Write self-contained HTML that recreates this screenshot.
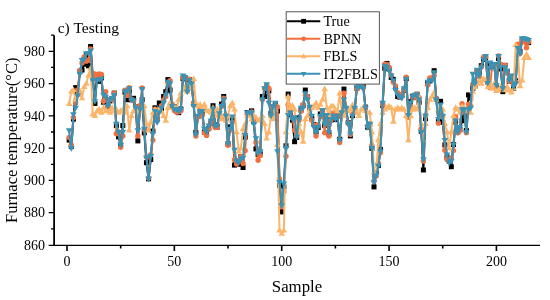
<!DOCTYPE html>
<html><head><meta charset="utf-8"><title>Testing</title>
<style>html,body{margin:0;padding:0;background:#fff;}body{width:550px;height:300px;overflow:hidden;}svg{display:block;}</style>
</head><body>
<svg width="550" height="300" viewBox="0 0 550 300">
<rect width="550" height="300" fill="#fff"/>
<g fill="none" stroke-linejoin="round" stroke-linecap="round">
<polyline points="69.15,140.09 71.29,146.55 73.44,119.11 75.59,87.63 77.73,91.67 79.88,71.33 82.03,70.04 84.18,64.23 86.32,54.55 88.47,65.85 90.62,46.48 92.76,75.53 94.91,103.45 97.06,74.72 99.20,81.34 101.35,77.95 103.50,102.16 105.65,99.09 107.79,106.20 109.94,100.87 112.09,98.45 114.23,93.12 116.38,125.56 118.53,136.86 120.67,144.93 122.82,125.56 124.97,92.15 127.12,99.74 129.26,91.19 131.41,99.74 133.56,98.29 135.70,106.68 137.85,140.90 140.00,107.49 142.14,99.74 144.29,132.83 146.44,162.69 148.59,178.83 150.73,159.46 152.88,131.05 155.03,107.81 157.17,119.11 159.32,102.97 161.47,108.46 163.62,96.51 165.76,91.67 167.91,79.56 170.06,90.06 172.20,107.00 174.35,106.84 176.50,111.36 178.64,112.65 180.79,108.94 182.94,78.44 185.08,77.95 187.23,89.09 189.38,79.56 191.53,82.63 193.67,103.94 195.82,132.34 197.97,116.53 200.11,111.04 202.26,113.62 204.41,132.02 206.55,132.99 208.70,128.47 210.85,122.98 213.00,105.71 215.14,124.92 217.29,127.02 219.44,114.10 221.58,104.10 223.73,96.51 225.88,118.30 228.02,144.29 230.17,126.86 232.32,119.43 234.47,165.11 236.61,160.75 238.76,164.30 240.91,156.55 243.05,167.53 245.20,137.18 247.35,112.49 249.49,113.62 251.64,110.88 253.79,121.85 255.94,148.97 258.08,154.62 260.23,153.81 262.38,96.51 264.52,96.51 266.67,86.83 268.82,90.86 270.96,113.30 273.11,107.81 275.26,104.74 277.41,111.04 279.55,185.28 281.70,211.91 283.85,186.90 285.99,145.74 288.14,94.09 290.29,114.59 292.43,120.08 294.58,141.70 296.73,137.51 298.88,117.82 301.02,109.91 303.17,105.39 305.32,90.06 307.46,97.00 309.61,107.81 311.76,117.98 313.90,124.43 316.05,131.86 318.20,127.50 320.35,113.94 322.49,111.52 324.64,125.40 326.79,116.53 328.93,134.12 331.08,119.91 333.23,115.40 335.38,119.59 337.52,115.88 339.67,139.28 341.82,112.97 343.96,89.09 346.11,109.75 348.26,122.66 350.40,135.89 352.55,115.56 354.70,110.07 356.84,88.28 358.99,85.21 361.14,86.02 363.29,86.02 365.43,107.16 367.58,127.18 369.73,124.27 371.87,148.32 374.02,186.90 376.17,173.02 378.31,165.59 380.46,149.45 382.61,105.23 384.76,68.27 386.90,63.42 389.05,69.07 391.20,77.47 393.34,79.40 395.49,87.80 397.64,96.51 399.78,97.16 401.93,95.22 404.08,90.38 406.23,78.60 408.37,116.85 410.52,101.68 412.67,96.19 414.81,97.64 416.96,94.25 419.11,102.32 421.25,131.21 423.40,169.95 425.55,118.62 427.70,83.28 429.84,80.86 431.99,78.60 434.14,70.69 436.28,99.26 438.43,121.53 440.58,101.35 442.72,122.34 444.87,144.93 447.02,157.04 449.17,161.07 451.31,166.72 453.46,144.61 455.61,122.01 457.75,131.86 459.90,129.44 462.05,120.72 464.19,110.55 466.34,130.57 468.49,94.90 470.64,98.13 472.78,88.44 474.93,86.02 477.08,71.66 479.22,72.95 481.37,65.68 483.52,59.39 485.66,57.78 487.81,81.99 489.96,63.59 492.11,66.33 494.25,64.72 496.40,87.80 498.55,58.58 500.69,68.91 502.84,91.67 504.99,65.36 507.13,71.98 509.28,81.50 511.43,77.47 513.58,88.28 515.72,80.86 517.87,46.48 520.02,51.32 522.16,40.02 524.31,41.64 526.46,40.83 528.61,42.60" stroke="#000000" stroke-width="2.0"/>
<g fill="#000000"><rect x="66.65" y="137.59" width="5.0" height="5.0"/><rect x="68.79" y="144.05" width="5.0" height="5.0"/><rect x="70.94" y="116.61" width="5.0" height="5.0"/><rect x="73.09" y="85.13" width="5.0" height="5.0"/><rect x="75.23" y="89.17" width="5.0" height="5.0"/><rect x="77.38" y="68.83" width="5.0" height="5.0"/><rect x="79.53" y="67.54" width="5.0" height="5.0"/><rect x="81.68" y="61.73" width="5.0" height="5.0"/><rect x="83.82" y="52.05" width="5.0" height="5.0"/><rect x="85.97" y="63.35" width="5.0" height="5.0"/><rect x="88.12" y="43.98" width="5.0" height="5.0"/><rect x="90.26" y="73.03" width="5.0" height="5.0"/><rect x="92.41" y="100.95" width="5.0" height="5.0"/><rect x="94.56" y="72.22" width="5.0" height="5.0"/><rect x="96.70" y="78.84" width="5.0" height="5.0"/><rect x="98.85" y="75.45" width="5.0" height="5.0"/><rect x="101.00" y="99.66" width="5.0" height="5.0"/><rect x="103.15" y="96.59" width="5.0" height="5.0"/><rect x="105.29" y="103.70" width="5.0" height="5.0"/><rect x="107.44" y="98.37" width="5.0" height="5.0"/><rect x="109.59" y="95.95" width="5.0" height="5.0"/><rect x="111.73" y="90.62" width="5.0" height="5.0"/><rect x="113.88" y="123.06" width="5.0" height="5.0"/><rect x="116.03" y="134.36" width="5.0" height="5.0"/><rect x="118.17" y="142.43" width="5.0" height="5.0"/><rect x="120.32" y="123.06" width="5.0" height="5.0"/><rect x="122.47" y="89.65" width="5.0" height="5.0"/><rect x="124.62" y="97.24" width="5.0" height="5.0"/><rect x="126.76" y="88.69" width="5.0" height="5.0"/><rect x="128.91" y="97.24" width="5.0" height="5.0"/><rect x="131.06" y="95.79" width="5.0" height="5.0"/><rect x="133.20" y="104.18" width="5.0" height="5.0"/><rect x="135.35" y="138.40" width="5.0" height="5.0"/><rect x="137.50" y="104.99" width="5.0" height="5.0"/><rect x="139.64" y="97.24" width="5.0" height="5.0"/><rect x="141.79" y="130.33" width="5.0" height="5.0"/><rect x="143.94" y="160.19" width="5.0" height="5.0"/><rect x="146.09" y="176.33" width="5.0" height="5.0"/><rect x="148.23" y="156.96" width="5.0" height="5.0"/><rect x="150.38" y="128.55" width="5.0" height="5.0"/><rect x="152.53" y="105.31" width="5.0" height="5.0"/><rect x="154.67" y="116.61" width="5.0" height="5.0"/><rect x="156.82" y="100.47" width="5.0" height="5.0"/><rect x="158.97" y="105.96" width="5.0" height="5.0"/><rect x="161.12" y="94.01" width="5.0" height="5.0"/><rect x="163.26" y="89.17" width="5.0" height="5.0"/><rect x="165.41" y="77.06" width="5.0" height="5.0"/><rect x="167.56" y="87.56" width="5.0" height="5.0"/><rect x="169.70" y="104.50" width="5.0" height="5.0"/><rect x="171.85" y="104.34" width="5.0" height="5.0"/><rect x="174.00" y="108.86" width="5.0" height="5.0"/><rect x="176.14" y="110.15" width="5.0" height="5.0"/><rect x="178.29" y="106.44" width="5.0" height="5.0"/><rect x="180.44" y="75.94" width="5.0" height="5.0"/><rect x="182.58" y="75.45" width="5.0" height="5.0"/><rect x="184.73" y="86.59" width="5.0" height="5.0"/><rect x="186.88" y="77.06" width="5.0" height="5.0"/><rect x="189.03" y="80.13" width="5.0" height="5.0"/><rect x="191.17" y="101.44" width="5.0" height="5.0"/><rect x="193.32" y="129.84" width="5.0" height="5.0"/><rect x="195.47" y="114.03" width="5.0" height="5.0"/><rect x="197.61" y="108.54" width="5.0" height="5.0"/><rect x="199.76" y="111.12" width="5.0" height="5.0"/><rect x="201.91" y="129.52" width="5.0" height="5.0"/><rect x="204.05" y="130.49" width="5.0" height="5.0"/><rect x="206.20" y="125.97" width="5.0" height="5.0"/><rect x="208.35" y="120.48" width="5.0" height="5.0"/><rect x="210.50" y="103.21" width="5.0" height="5.0"/><rect x="212.64" y="122.42" width="5.0" height="5.0"/><rect x="214.79" y="124.52" width="5.0" height="5.0"/><rect x="216.94" y="111.60" width="5.0" height="5.0"/><rect x="219.08" y="101.60" width="5.0" height="5.0"/><rect x="221.23" y="94.01" width="5.0" height="5.0"/><rect x="223.38" y="115.80" width="5.0" height="5.0"/><rect x="225.52" y="141.79" width="5.0" height="5.0"/><rect x="227.67" y="124.36" width="5.0" height="5.0"/><rect x="229.82" y="116.93" width="5.0" height="5.0"/><rect x="231.97" y="162.61" width="5.0" height="5.0"/><rect x="234.11" y="158.25" width="5.0" height="5.0"/><rect x="236.26" y="161.80" width="5.0" height="5.0"/><rect x="238.41" y="154.05" width="5.0" height="5.0"/><rect x="240.55" y="165.03" width="5.0" height="5.0"/><rect x="242.70" y="134.68" width="5.0" height="5.0"/><rect x="244.85" y="109.99" width="5.0" height="5.0"/><rect x="246.99" y="111.12" width="5.0" height="5.0"/><rect x="249.14" y="108.38" width="5.0" height="5.0"/><rect x="251.29" y="119.35" width="5.0" height="5.0"/><rect x="253.44" y="146.47" width="5.0" height="5.0"/><rect x="255.58" y="152.12" width="5.0" height="5.0"/><rect x="257.73" y="151.31" width="5.0" height="5.0"/><rect x="259.88" y="94.01" width="5.0" height="5.0"/><rect x="262.02" y="94.01" width="5.0" height="5.0"/><rect x="264.17" y="84.33" width="5.0" height="5.0"/><rect x="266.32" y="88.36" width="5.0" height="5.0"/><rect x="268.46" y="110.80" width="5.0" height="5.0"/><rect x="270.61" y="105.31" width="5.0" height="5.0"/><rect x="272.76" y="102.24" width="5.0" height="5.0"/><rect x="274.91" y="108.54" width="5.0" height="5.0"/><rect x="277.05" y="182.78" width="5.0" height="5.0"/><rect x="279.20" y="209.41" width="5.0" height="5.0"/><rect x="281.35" y="184.40" width="5.0" height="5.0"/><rect x="283.49" y="143.24" width="5.0" height="5.0"/><rect x="285.64" y="91.59" width="5.0" height="5.0"/><rect x="287.79" y="112.09" width="5.0" height="5.0"/><rect x="289.93" y="117.58" width="5.0" height="5.0"/><rect x="292.08" y="139.20" width="5.0" height="5.0"/><rect x="294.23" y="135.01" width="5.0" height="5.0"/><rect x="296.38" y="115.32" width="5.0" height="5.0"/><rect x="298.52" y="107.41" width="5.0" height="5.0"/><rect x="300.67" y="102.89" width="5.0" height="5.0"/><rect x="302.82" y="87.56" width="5.0" height="5.0"/><rect x="304.96" y="94.50" width="5.0" height="5.0"/><rect x="307.11" y="105.31" width="5.0" height="5.0"/><rect x="309.26" y="115.48" width="5.0" height="5.0"/><rect x="311.40" y="121.93" width="5.0" height="5.0"/><rect x="313.55" y="129.36" width="5.0" height="5.0"/><rect x="315.70" y="125.00" width="5.0" height="5.0"/><rect x="317.85" y="111.44" width="5.0" height="5.0"/><rect x="319.99" y="109.02" width="5.0" height="5.0"/><rect x="322.14" y="122.90" width="5.0" height="5.0"/><rect x="324.29" y="114.03" width="5.0" height="5.0"/><rect x="326.43" y="131.62" width="5.0" height="5.0"/><rect x="328.58" y="117.41" width="5.0" height="5.0"/><rect x="330.73" y="112.90" width="5.0" height="5.0"/><rect x="332.88" y="117.09" width="5.0" height="5.0"/><rect x="335.02" y="113.38" width="5.0" height="5.0"/><rect x="337.17" y="136.78" width="5.0" height="5.0"/><rect x="339.32" y="110.47" width="5.0" height="5.0"/><rect x="341.46" y="86.59" width="5.0" height="5.0"/><rect x="343.61" y="107.25" width="5.0" height="5.0"/><rect x="345.76" y="120.16" width="5.0" height="5.0"/><rect x="347.90" y="133.39" width="5.0" height="5.0"/><rect x="350.05" y="113.06" width="5.0" height="5.0"/><rect x="352.20" y="107.57" width="5.0" height="5.0"/><rect x="354.34" y="85.78" width="5.0" height="5.0"/><rect x="356.49" y="82.71" width="5.0" height="5.0"/><rect x="358.64" y="83.52" width="5.0" height="5.0"/><rect x="360.79" y="83.52" width="5.0" height="5.0"/><rect x="362.93" y="104.66" width="5.0" height="5.0"/><rect x="365.08" y="124.68" width="5.0" height="5.0"/><rect x="367.23" y="121.77" width="5.0" height="5.0"/><rect x="369.37" y="145.82" width="5.0" height="5.0"/><rect x="371.52" y="184.40" width="5.0" height="5.0"/><rect x="373.67" y="170.52" width="5.0" height="5.0"/><rect x="375.81" y="163.09" width="5.0" height="5.0"/><rect x="377.96" y="146.95" width="5.0" height="5.0"/><rect x="380.11" y="102.73" width="5.0" height="5.0"/><rect x="382.26" y="65.77" width="5.0" height="5.0"/><rect x="384.40" y="60.92" width="5.0" height="5.0"/><rect x="386.55" y="66.57" width="5.0" height="5.0"/><rect x="388.70" y="74.97" width="5.0" height="5.0"/><rect x="390.84" y="76.90" width="5.0" height="5.0"/><rect x="392.99" y="85.30" width="5.0" height="5.0"/><rect x="395.14" y="94.01" width="5.0" height="5.0"/><rect x="397.28" y="94.66" width="5.0" height="5.0"/><rect x="399.43" y="92.72" width="5.0" height="5.0"/><rect x="401.58" y="87.88" width="5.0" height="5.0"/><rect x="403.73" y="76.10" width="5.0" height="5.0"/><rect x="405.87" y="114.35" width="5.0" height="5.0"/><rect x="408.02" y="99.18" width="5.0" height="5.0"/><rect x="410.17" y="93.69" width="5.0" height="5.0"/><rect x="412.31" y="95.14" width="5.0" height="5.0"/><rect x="414.46" y="91.75" width="5.0" height="5.0"/><rect x="416.61" y="99.82" width="5.0" height="5.0"/><rect x="418.75" y="128.71" width="5.0" height="5.0"/><rect x="420.90" y="167.45" width="5.0" height="5.0"/><rect x="423.05" y="116.12" width="5.0" height="5.0"/><rect x="425.20" y="80.78" width="5.0" height="5.0"/><rect x="427.34" y="78.36" width="5.0" height="5.0"/><rect x="429.49" y="76.10" width="5.0" height="5.0"/><rect x="431.64" y="68.19" width="5.0" height="5.0"/><rect x="433.78" y="96.76" width="5.0" height="5.0"/><rect x="435.93" y="119.03" width="5.0" height="5.0"/><rect x="438.08" y="98.85" width="5.0" height="5.0"/><rect x="440.22" y="119.84" width="5.0" height="5.0"/><rect x="442.37" y="142.43" width="5.0" height="5.0"/><rect x="444.52" y="154.54" width="5.0" height="5.0"/><rect x="446.67" y="158.57" width="5.0" height="5.0"/><rect x="448.81" y="164.22" width="5.0" height="5.0"/><rect x="450.96" y="142.11" width="5.0" height="5.0"/><rect x="453.11" y="119.51" width="5.0" height="5.0"/><rect x="455.25" y="129.36" width="5.0" height="5.0"/><rect x="457.40" y="126.94" width="5.0" height="5.0"/><rect x="459.55" y="118.22" width="5.0" height="5.0"/><rect x="461.69" y="108.05" width="5.0" height="5.0"/><rect x="463.84" y="128.07" width="5.0" height="5.0"/><rect x="465.99" y="92.40" width="5.0" height="5.0"/><rect x="468.14" y="95.63" width="5.0" height="5.0"/><rect x="470.28" y="85.94" width="5.0" height="5.0"/><rect x="472.43" y="83.52" width="5.0" height="5.0"/><rect x="474.58" y="69.16" width="5.0" height="5.0"/><rect x="476.72" y="70.45" width="5.0" height="5.0"/><rect x="478.87" y="63.18" width="5.0" height="5.0"/><rect x="481.02" y="56.89" width="5.0" height="5.0"/><rect x="483.16" y="55.28" width="5.0" height="5.0"/><rect x="485.31" y="79.49" width="5.0" height="5.0"/><rect x="487.46" y="61.09" width="5.0" height="5.0"/><rect x="489.61" y="63.83" width="5.0" height="5.0"/><rect x="491.75" y="62.22" width="5.0" height="5.0"/><rect x="493.90" y="85.30" width="5.0" height="5.0"/><rect x="496.05" y="56.08" width="5.0" height="5.0"/><rect x="498.19" y="66.41" width="5.0" height="5.0"/><rect x="500.34" y="89.17" width="5.0" height="5.0"/><rect x="502.49" y="62.86" width="5.0" height="5.0"/><rect x="504.63" y="69.48" width="5.0" height="5.0"/><rect x="506.78" y="79.00" width="5.0" height="5.0"/><rect x="508.93" y="74.97" width="5.0" height="5.0"/><rect x="511.08" y="85.78" width="5.0" height="5.0"/><rect x="513.22" y="78.36" width="5.0" height="5.0"/><rect x="515.37" y="43.98" width="5.0" height="5.0"/><rect x="517.52" y="48.82" width="5.0" height="5.0"/><rect x="519.66" y="37.52" width="5.0" height="5.0"/><rect x="521.81" y="39.14" width="5.0" height="5.0"/><rect x="523.96" y="38.33" width="5.0" height="5.0"/><rect x="526.11" y="40.10" width="5.0" height="5.0"/></g>
<polyline points="69.15,137.51 71.29,144.93 73.44,117.49 75.59,102.97 77.73,90.06 79.88,70.69 82.03,62.94 84.18,56.97 86.32,61.17 88.47,60.20 90.62,49.06 92.76,79.24 94.91,73.92 97.06,75.53 99.20,73.92 101.35,74.56 103.50,101.35 105.65,91.67 107.79,106.68 109.94,99.74 112.09,99.58 114.23,93.28 116.38,133.63 118.53,132.02 120.67,147.35 122.82,136.06 124.97,90.22 127.12,95.38 129.26,87.63 131.41,99.26 133.56,100.71 135.70,106.68 137.85,135.89 140.00,105.55 142.14,87.96 144.29,129.44 146.44,157.04 148.59,178.02 150.73,154.62 152.88,140.09 155.03,109.42 157.17,118.95 159.32,109.42 161.47,105.71 163.62,100.06 165.76,96.51 167.91,82.79 170.06,80.69 172.20,104.10 174.35,110.39 176.50,112.17 178.64,111.84 180.79,110.72 182.94,77.47 185.08,77.14 187.23,89.09 189.38,79.24 191.53,86.02 193.67,103.29 195.82,136.06 197.97,116.85 200.11,110.23 202.26,115.07 204.41,132.67 206.55,135.41 208.70,129.28 210.85,122.82 213.00,109.42 215.14,127.50 217.29,127.34 219.44,116.20 221.58,106.20 223.73,98.29 225.88,119.59 228.02,145.25 230.17,130.08 232.32,122.34 234.47,159.78 236.61,163.98 238.76,160.43 240.91,156.39 243.05,163.49 245.20,150.58 247.35,114.27 249.49,112.65 251.64,111.84 253.79,120.88 255.94,142.19 258.08,160.26 260.23,155.58 262.38,99.58 264.52,88.44 266.67,86.02 268.82,88.44 270.96,115.40 273.11,108.78 275.26,105.71 277.41,106.84 279.55,178.83 281.70,206.75 283.85,191.74 285.99,156.23 288.14,104.74 290.29,111.68 292.43,117.66 294.58,130.24 296.73,134.28 298.88,120.56 301.02,111.20 303.17,104.58 305.32,94.90 307.46,97.32 309.61,107.16 311.76,120.08 313.90,124.92 316.05,136.06 318.20,124.92 320.35,116.85 322.49,112.17 324.64,132.83 326.79,116.36 328.93,136.06 331.08,119.75 333.23,112.97 335.38,116.69 337.52,115.72 339.67,142.51 341.82,114.91 343.96,93.28 346.11,108.94 348.26,122.98 350.40,134.60 352.55,113.94 354.70,108.62 356.84,88.93 358.99,86.02 361.14,84.41 363.29,87.63 365.43,107.49 367.58,125.89 369.73,123.95 371.87,145.42 374.02,181.25 376.17,175.92 378.31,162.85 380.46,152.68 382.61,104.42 384.76,64.23 386.90,64.39 389.05,67.30 391.20,75.21 393.34,82.15 395.49,85.86 397.64,92.80 399.78,96.83 401.93,94.58 404.08,90.06 406.23,77.14 408.37,117.17 410.52,105.39 412.67,96.67 414.81,97.32 416.96,94.41 419.11,97.80 421.25,128.63 423.40,161.07 425.55,115.40 427.70,85.05 429.84,77.95 431.99,78.76 434.14,75.53 436.28,98.29 438.43,123.14 440.58,109.42 442.72,116.20 444.87,150.26 447.02,159.46 449.17,159.46 451.31,157.84 453.46,150.58 455.61,116.69 457.75,132.83 459.90,130.57 462.05,103.77 464.19,111.20 466.34,132.67 468.49,104.26 470.64,106.03 472.78,84.25 474.93,84.41 477.08,71.01 479.22,76.82 481.37,66.98 483.52,57.29 485.66,56.97 487.81,79.40 489.96,87.63 492.11,66.01 494.25,65.52 496.40,88.93 498.55,55.84 500.69,64.23 502.84,87.80 504.99,65.36 507.13,72.95 509.28,81.18 511.43,76.82 513.58,84.57 515.72,81.99 517.87,44.22 520.02,53.42 522.16,40.02 524.31,41.64 526.46,47.77 528.61,41.64" stroke="#F46F3E" stroke-width="2.0"/>
<g fill="#F46F3E"><circle cx="69.15" cy="137.51" r="2.7"/><circle cx="71.29" cy="144.93" r="2.7"/><circle cx="73.44" cy="117.49" r="2.7"/><circle cx="75.59" cy="102.97" r="2.7"/><circle cx="77.73" cy="90.06" r="2.7"/><circle cx="79.88" cy="70.69" r="2.7"/><circle cx="82.03" cy="62.94" r="2.7"/><circle cx="84.18" cy="56.97" r="2.7"/><circle cx="86.32" cy="61.17" r="2.7"/><circle cx="88.47" cy="60.20" r="2.7"/><circle cx="90.62" cy="49.06" r="2.7"/><circle cx="92.76" cy="79.24" r="2.7"/><circle cx="94.91" cy="73.92" r="2.7"/><circle cx="97.06" cy="75.53" r="2.7"/><circle cx="99.20" cy="73.92" r="2.7"/><circle cx="101.35" cy="74.56" r="2.7"/><circle cx="103.50" cy="101.35" r="2.7"/><circle cx="105.65" cy="91.67" r="2.7"/><circle cx="107.79" cy="106.68" r="2.7"/><circle cx="109.94" cy="99.74" r="2.7"/><circle cx="112.09" cy="99.58" r="2.7"/><circle cx="114.23" cy="93.28" r="2.7"/><circle cx="116.38" cy="133.63" r="2.7"/><circle cx="118.53" cy="132.02" r="2.7"/><circle cx="120.67" cy="147.35" r="2.7"/><circle cx="122.82" cy="136.06" r="2.7"/><circle cx="124.97" cy="90.22" r="2.7"/><circle cx="127.12" cy="95.38" r="2.7"/><circle cx="129.26" cy="87.63" r="2.7"/><circle cx="131.41" cy="99.26" r="2.7"/><circle cx="133.56" cy="100.71" r="2.7"/><circle cx="135.70" cy="106.68" r="2.7"/><circle cx="137.85" cy="135.89" r="2.7"/><circle cx="140.00" cy="105.55" r="2.7"/><circle cx="142.14" cy="87.96" r="2.7"/><circle cx="144.29" cy="129.44" r="2.7"/><circle cx="146.44" cy="157.04" r="2.7"/><circle cx="148.59" cy="178.02" r="2.7"/><circle cx="150.73" cy="154.62" r="2.7"/><circle cx="152.88" cy="140.09" r="2.7"/><circle cx="155.03" cy="109.42" r="2.7"/><circle cx="157.17" cy="118.95" r="2.7"/><circle cx="159.32" cy="109.42" r="2.7"/><circle cx="161.47" cy="105.71" r="2.7"/><circle cx="163.62" cy="100.06" r="2.7"/><circle cx="165.76" cy="96.51" r="2.7"/><circle cx="167.91" cy="82.79" r="2.7"/><circle cx="170.06" cy="80.69" r="2.7"/><circle cx="172.20" cy="104.10" r="2.7"/><circle cx="174.35" cy="110.39" r="2.7"/><circle cx="176.50" cy="112.17" r="2.7"/><circle cx="178.64" cy="111.84" r="2.7"/><circle cx="180.79" cy="110.72" r="2.7"/><circle cx="182.94" cy="77.47" r="2.7"/><circle cx="185.08" cy="77.14" r="2.7"/><circle cx="187.23" cy="89.09" r="2.7"/><circle cx="189.38" cy="79.24" r="2.7"/><circle cx="191.53" cy="86.02" r="2.7"/><circle cx="193.67" cy="103.29" r="2.7"/><circle cx="195.82" cy="136.06" r="2.7"/><circle cx="197.97" cy="116.85" r="2.7"/><circle cx="200.11" cy="110.23" r="2.7"/><circle cx="202.26" cy="115.07" r="2.7"/><circle cx="204.41" cy="132.67" r="2.7"/><circle cx="206.55" cy="135.41" r="2.7"/><circle cx="208.70" cy="129.28" r="2.7"/><circle cx="210.85" cy="122.82" r="2.7"/><circle cx="213.00" cy="109.42" r="2.7"/><circle cx="215.14" cy="127.50" r="2.7"/><circle cx="217.29" cy="127.34" r="2.7"/><circle cx="219.44" cy="116.20" r="2.7"/><circle cx="221.58" cy="106.20" r="2.7"/><circle cx="223.73" cy="98.29" r="2.7"/><circle cx="225.88" cy="119.59" r="2.7"/><circle cx="228.02" cy="145.25" r="2.7"/><circle cx="230.17" cy="130.08" r="2.7"/><circle cx="232.32" cy="122.34" r="2.7"/><circle cx="234.47" cy="159.78" r="2.7"/><circle cx="236.61" cy="163.98" r="2.7"/><circle cx="238.76" cy="160.43" r="2.7"/><circle cx="240.91" cy="156.39" r="2.7"/><circle cx="243.05" cy="163.49" r="2.7"/><circle cx="245.20" cy="150.58" r="2.7"/><circle cx="247.35" cy="114.27" r="2.7"/><circle cx="249.49" cy="112.65" r="2.7"/><circle cx="251.64" cy="111.84" r="2.7"/><circle cx="253.79" cy="120.88" r="2.7"/><circle cx="255.94" cy="142.19" r="2.7"/><circle cx="258.08" cy="160.26" r="2.7"/><circle cx="260.23" cy="155.58" r="2.7"/><circle cx="262.38" cy="99.58" r="2.7"/><circle cx="264.52" cy="88.44" r="2.7"/><circle cx="266.67" cy="86.02" r="2.7"/><circle cx="268.82" cy="88.44" r="2.7"/><circle cx="270.96" cy="115.40" r="2.7"/><circle cx="273.11" cy="108.78" r="2.7"/><circle cx="275.26" cy="105.71" r="2.7"/><circle cx="277.41" cy="106.84" r="2.7"/><circle cx="279.55" cy="178.83" r="2.7"/><circle cx="281.70" cy="206.75" r="2.7"/><circle cx="283.85" cy="191.74" r="2.7"/><circle cx="285.99" cy="156.23" r="2.7"/><circle cx="288.14" cy="104.74" r="2.7"/><circle cx="290.29" cy="111.68" r="2.7"/><circle cx="292.43" cy="117.66" r="2.7"/><circle cx="294.58" cy="130.24" r="2.7"/><circle cx="296.73" cy="134.28" r="2.7"/><circle cx="298.88" cy="120.56" r="2.7"/><circle cx="301.02" cy="111.20" r="2.7"/><circle cx="303.17" cy="104.58" r="2.7"/><circle cx="305.32" cy="94.90" r="2.7"/><circle cx="307.46" cy="97.32" r="2.7"/><circle cx="309.61" cy="107.16" r="2.7"/><circle cx="311.76" cy="120.08" r="2.7"/><circle cx="313.90" cy="124.92" r="2.7"/><circle cx="316.05" cy="136.06" r="2.7"/><circle cx="318.20" cy="124.92" r="2.7"/><circle cx="320.35" cy="116.85" r="2.7"/><circle cx="322.49" cy="112.17" r="2.7"/><circle cx="324.64" cy="132.83" r="2.7"/><circle cx="326.79" cy="116.36" r="2.7"/><circle cx="328.93" cy="136.06" r="2.7"/><circle cx="331.08" cy="119.75" r="2.7"/><circle cx="333.23" cy="112.97" r="2.7"/><circle cx="335.38" cy="116.69" r="2.7"/><circle cx="337.52" cy="115.72" r="2.7"/><circle cx="339.67" cy="142.51" r="2.7"/><circle cx="341.82" cy="114.91" r="2.7"/><circle cx="343.96" cy="93.28" r="2.7"/><circle cx="346.11" cy="108.94" r="2.7"/><circle cx="348.26" cy="122.98" r="2.7"/><circle cx="350.40" cy="134.60" r="2.7"/><circle cx="352.55" cy="113.94" r="2.7"/><circle cx="354.70" cy="108.62" r="2.7"/><circle cx="356.84" cy="88.93" r="2.7"/><circle cx="358.99" cy="86.02" r="2.7"/><circle cx="361.14" cy="84.41" r="2.7"/><circle cx="363.29" cy="87.63" r="2.7"/><circle cx="365.43" cy="107.49" r="2.7"/><circle cx="367.58" cy="125.89" r="2.7"/><circle cx="369.73" cy="123.95" r="2.7"/><circle cx="371.87" cy="145.42" r="2.7"/><circle cx="374.02" cy="181.25" r="2.7"/><circle cx="376.17" cy="175.92" r="2.7"/><circle cx="378.31" cy="162.85" r="2.7"/><circle cx="380.46" cy="152.68" r="2.7"/><circle cx="382.61" cy="104.42" r="2.7"/><circle cx="384.76" cy="64.23" r="2.7"/><circle cx="386.90" cy="64.39" r="2.7"/><circle cx="389.05" cy="67.30" r="2.7"/><circle cx="391.20" cy="75.21" r="2.7"/><circle cx="393.34" cy="82.15" r="2.7"/><circle cx="395.49" cy="85.86" r="2.7"/><circle cx="397.64" cy="92.80" r="2.7"/><circle cx="399.78" cy="96.83" r="2.7"/><circle cx="401.93" cy="94.58" r="2.7"/><circle cx="404.08" cy="90.06" r="2.7"/><circle cx="406.23" cy="77.14" r="2.7"/><circle cx="408.37" cy="117.17" r="2.7"/><circle cx="410.52" cy="105.39" r="2.7"/><circle cx="412.67" cy="96.67" r="2.7"/><circle cx="414.81" cy="97.32" r="2.7"/><circle cx="416.96" cy="94.41" r="2.7"/><circle cx="419.11" cy="97.80" r="2.7"/><circle cx="421.25" cy="128.63" r="2.7"/><circle cx="423.40" cy="161.07" r="2.7"/><circle cx="425.55" cy="115.40" r="2.7"/><circle cx="427.70" cy="85.05" r="2.7"/><circle cx="429.84" cy="77.95" r="2.7"/><circle cx="431.99" cy="78.76" r="2.7"/><circle cx="434.14" cy="75.53" r="2.7"/><circle cx="436.28" cy="98.29" r="2.7"/><circle cx="438.43" cy="123.14" r="2.7"/><circle cx="440.58" cy="109.42" r="2.7"/><circle cx="442.72" cy="116.20" r="2.7"/><circle cx="444.87" cy="150.26" r="2.7"/><circle cx="447.02" cy="159.46" r="2.7"/><circle cx="449.17" cy="159.46" r="2.7"/><circle cx="451.31" cy="157.84" r="2.7"/><circle cx="453.46" cy="150.58" r="2.7"/><circle cx="455.61" cy="116.69" r="2.7"/><circle cx="457.75" cy="132.83" r="2.7"/><circle cx="459.90" cy="130.57" r="2.7"/><circle cx="462.05" cy="103.77" r="2.7"/><circle cx="464.19" cy="111.20" r="2.7"/><circle cx="466.34" cy="132.67" r="2.7"/><circle cx="468.49" cy="104.26" r="2.7"/><circle cx="470.64" cy="106.03" r="2.7"/><circle cx="472.78" cy="84.25" r="2.7"/><circle cx="474.93" cy="84.41" r="2.7"/><circle cx="477.08" cy="71.01" r="2.7"/><circle cx="479.22" cy="76.82" r="2.7"/><circle cx="481.37" cy="66.98" r="2.7"/><circle cx="483.52" cy="57.29" r="2.7"/><circle cx="485.66" cy="56.97" r="2.7"/><circle cx="487.81" cy="79.40" r="2.7"/><circle cx="489.96" cy="87.63" r="2.7"/><circle cx="492.11" cy="66.01" r="2.7"/><circle cx="494.25" cy="65.52" r="2.7"/><circle cx="496.40" cy="88.93" r="2.7"/><circle cx="498.55" cy="55.84" r="2.7"/><circle cx="500.69" cy="64.23" r="2.7"/><circle cx="502.84" cy="87.80" r="2.7"/><circle cx="504.99" cy="65.36" r="2.7"/><circle cx="507.13" cy="72.95" r="2.7"/><circle cx="509.28" cy="81.18" r="2.7"/><circle cx="511.43" cy="76.82" r="2.7"/><circle cx="513.58" cy="84.57" r="2.7"/><circle cx="515.72" cy="81.99" r="2.7"/><circle cx="517.87" cy="44.22" r="2.7"/><circle cx="520.02" cy="53.42" r="2.7"/><circle cx="522.16" cy="40.02" r="2.7"/><circle cx="524.31" cy="41.64" r="2.7"/><circle cx="526.46" cy="47.77" r="2.7"/><circle cx="528.61" cy="41.64" r="2.7"/></g>
<polyline points="69.15,103.77 71.29,91.67 73.44,90.06 75.59,99.74 77.73,94.90 79.88,90.86 82.03,98.13 84.18,86.83 86.32,83.60 88.47,75.53 90.62,68.27 92.76,114.27 94.91,115.88 97.06,111.04 99.20,109.42 101.35,112.65 103.50,107.81 105.65,111.04 107.79,109.42 109.94,112.65 112.09,107.81 114.23,111.04 116.38,109.42 118.53,112.65 120.67,111.04 122.82,109.42 124.97,112.65 127.12,106.20 129.26,130.41 131.41,115.88 133.56,111.04 135.70,109.42 137.85,109.42 140.00,111.04 142.14,109.42 144.29,106.20 146.44,123.95 148.59,130.41 150.73,122.34 152.88,112.65 155.03,109.42 157.17,111.04 159.32,109.42 161.47,111.04 163.62,115.88 165.76,120.72 167.91,107.81 170.06,102.97 172.20,107.81 174.35,106.20 176.50,109.42 178.64,99.74 180.79,93.28 182.94,90.06 185.08,86.83 187.23,91.67 189.38,83.60 191.53,88.44 193.67,78.76 195.82,102.97 197.97,106.20 200.11,104.58 202.26,107.81 204.41,104.58 206.55,110.07 208.70,111.04 210.85,112.65 213.00,107.81 215.14,115.88 217.29,109.42 219.44,112.65 221.58,119.11 223.73,115.88 225.88,120.72 228.02,115.88 230.17,106.20 232.32,102.97 234.47,109.42 236.61,132.02 238.76,151.39 240.91,148.16 243.05,128.79 245.20,123.95 247.35,115.88 249.49,115.88 251.64,119.11 253.79,115.88 255.94,117.49 258.08,120.72 260.23,119.11 262.38,115.88 264.52,123.95 266.67,138.48 268.82,132.02 270.96,115.88 273.11,119.11 275.26,109.42 277.41,144.93 279.55,230.47 281.70,233.70 283.85,230.47 285.99,132.02 288.14,96.51 290.29,107.81 292.43,105.39 294.58,109.42 296.73,135.25 298.88,123.95 301.02,132.02 303.17,141.70 305.32,119.11 307.46,115.88 309.61,109.42 311.76,107.81 313.90,106.20 316.05,102.97 318.20,107.81 320.35,104.58 322.49,99.74 324.64,89.09 326.79,107.81 328.93,115.88 331.08,106.20 333.23,106.20 335.38,109.42 337.52,111.04 339.67,93.28 341.82,111.04 343.96,115.88 346.11,109.42 348.26,111.04 350.40,109.42 352.55,104.90 354.70,109.42 356.84,112.65 358.99,115.88 361.14,109.42 363.29,107.81 365.43,111.04 367.58,112.65 369.73,112.65 371.87,132.02 374.02,172.37 376.17,173.98 378.31,140.09 380.46,123.95 382.61,112.65 384.76,109.42 386.90,107.81 389.05,106.20 391.20,107.81 393.34,121.53 395.49,109.42 397.64,107.81 399.78,109.42 401.93,107.81 404.08,109.42 406.23,115.88 408.37,140.09 410.52,115.88 412.67,109.42 414.81,107.81 416.96,109.42 419.11,98.13 421.25,123.95 423.40,140.09 425.55,123.95 427.70,107.81 429.84,99.74 431.99,96.51 434.14,92.48 436.28,99.74 438.43,109.42 440.58,107.81 442.72,109.42 444.87,123.95 447.02,132.02 449.17,148.16 451.31,132.02 453.46,115.88 455.61,107.81 457.75,109.42 459.90,112.65 462.05,106.20 464.19,107.81 466.34,109.42 468.49,111.04 470.64,112.65 472.78,91.67 474.93,86.83 477.08,83.60 479.22,80.37 481.37,83.60 483.52,78.76 485.66,80.37 487.81,86.83 489.96,83.60 492.11,88.44 494.25,83.60 496.40,90.86 498.55,90.06 500.69,86.83 502.84,88.44 504.99,90.06 507.13,86.83 509.28,90.06 511.43,92.48 513.58,88.44 515.72,44.86 517.87,51.32 520.02,86.02 522.16,80.37 524.31,57.78 526.46,54.55 528.61,57.78" stroke="#FCB469" stroke-width="2.0"/>
<g fill="#FCB469"><path d="M69.15 100.30L72.45 105.90L65.85 105.90Z"/><path d="M71.29 88.20L74.59 93.80L67.99 93.80Z"/><path d="M73.44 86.58L76.74 92.18L70.14 92.18Z"/><path d="M75.59 96.27L78.89 101.87L72.29 101.87Z"/><path d="M77.73 91.43L81.03 97.03L74.44 97.03Z"/><path d="M79.88 87.39L83.18 92.99L76.58 92.99Z"/><path d="M82.03 94.65L85.33 100.25L78.73 100.25Z"/><path d="M84.18 83.36L87.48 88.96L80.88 88.96Z"/><path d="M86.32 80.13L89.62 85.73L83.02 85.73Z"/><path d="M88.47 72.06L91.77 77.66L85.17 77.66Z"/><path d="M90.62 64.80L93.92 70.39L87.32 70.39Z"/><path d="M92.76 110.79L96.06 116.39L89.46 116.39Z"/><path d="M94.91 112.41L98.21 118.01L91.61 118.01Z"/><path d="M97.06 107.57L100.36 113.17L93.76 113.17Z"/><path d="M99.20 105.95L102.50 111.55L95.91 111.55Z"/><path d="M101.35 109.18L104.65 114.78L98.05 114.78Z"/><path d="M103.50 104.34L106.80 109.94L100.20 109.94Z"/><path d="M105.65 107.57L108.95 113.17L102.35 113.17Z"/><path d="M107.79 105.95L111.09 111.55L104.49 111.55Z"/><path d="M109.94 109.18L113.24 114.78L106.64 114.78Z"/><path d="M112.09 104.34L115.39 109.94L108.79 109.94Z"/><path d="M114.23 107.57L117.53 113.17L110.93 113.17Z"/><path d="M116.38 105.95L119.68 111.55L113.08 111.55Z"/><path d="M118.53 109.18L121.83 114.78L115.23 114.78Z"/><path d="M120.67 107.57L123.97 113.17L117.38 113.17Z"/><path d="M122.82 105.95L126.12 111.55L119.52 111.55Z"/><path d="M124.97 109.18L128.27 114.78L121.67 114.78Z"/><path d="M127.12 102.72L130.42 108.32L123.82 108.32Z"/><path d="M129.26 126.93L132.56 132.53L125.96 132.53Z"/><path d="M131.41 112.41L134.71 118.01L128.11 118.01Z"/><path d="M133.56 107.57L136.86 113.17L130.26 113.17Z"/><path d="M135.70 105.95L139.00 111.55L132.40 111.55Z"/><path d="M137.85 105.95L141.15 111.55L134.55 111.55Z"/><path d="M140.00 107.57L143.30 113.17L136.70 113.17Z"/><path d="M142.14 105.95L145.44 111.55L138.84 111.55Z"/><path d="M144.29 102.72L147.59 108.32L140.99 108.32Z"/><path d="M146.44 120.48L149.74 126.08L143.14 126.08Z"/><path d="M148.59 126.93L151.89 132.53L145.29 132.53Z"/><path d="M150.73 118.86L154.03 124.46L147.43 124.46Z"/><path d="M152.88 109.18L156.18 114.78L149.58 114.78Z"/><path d="M155.03 105.95L158.33 111.55L151.73 111.55Z"/><path d="M157.17 107.57L160.47 113.17L153.87 113.17Z"/><path d="M159.32 105.95L162.62 111.55L156.02 111.55Z"/><path d="M161.47 107.57L164.77 113.17L158.17 113.17Z"/><path d="M163.62 112.41L166.92 118.01L160.31 118.01Z"/><path d="M165.76 117.25L169.06 122.85L162.46 122.85Z"/><path d="M167.91 104.34L171.21 109.94L164.61 109.94Z"/><path d="M170.06 99.50L173.36 105.10L166.76 105.10Z"/><path d="M172.20 104.34L175.50 109.94L168.90 109.94Z"/><path d="M174.35 102.72L177.65 108.32L171.05 108.32Z"/><path d="M176.50 105.95L179.80 111.55L173.20 111.55Z"/><path d="M178.64 96.27L181.94 101.87L175.34 101.87Z"/><path d="M180.79 89.81L184.09 95.41L177.49 95.41Z"/><path d="M182.94 86.58L186.24 92.18L179.64 92.18Z"/><path d="M185.08 83.36L188.38 88.96L181.78 88.96Z"/><path d="M187.23 88.20L190.53 93.80L183.93 93.80Z"/><path d="M189.38 80.13L192.68 85.73L186.08 85.73Z"/><path d="M191.53 84.97L194.83 90.57L188.23 90.57Z"/><path d="M193.67 75.29L196.97 80.89L190.37 80.89Z"/><path d="M195.82 99.50L199.12 105.10L192.52 105.10Z"/><path d="M197.97 102.72L201.27 108.32L194.67 108.32Z"/><path d="M200.11 101.11L203.41 106.71L196.81 106.71Z"/><path d="M202.26 104.34L205.56 109.94L198.96 109.94Z"/><path d="M204.41 101.11L207.71 106.71L201.11 106.71Z"/><path d="M206.55 106.60L209.85 112.20L203.25 112.20Z"/><path d="M208.70 107.57L212.00 113.17L205.40 113.17Z"/><path d="M210.85 109.18L214.15 114.78L207.55 114.78Z"/><path d="M213.00 104.34L216.30 109.94L209.70 109.94Z"/><path d="M215.14 112.41L218.44 118.01L211.84 118.01Z"/><path d="M217.29 105.95L220.59 111.55L213.99 111.55Z"/><path d="M219.44 109.18L222.74 114.78L216.14 114.78Z"/><path d="M221.58 115.64L224.88 121.24L218.28 121.24Z"/><path d="M223.73 112.41L227.03 118.01L220.43 118.01Z"/><path d="M225.88 117.25L229.18 122.85L222.58 122.85Z"/><path d="M228.02 112.41L231.32 118.01L224.72 118.01Z"/><path d="M230.17 102.72L233.47 108.32L226.87 108.32Z"/><path d="M232.32 99.50L235.62 105.10L229.02 105.10Z"/><path d="M234.47 105.95L237.77 111.55L231.17 111.55Z"/><path d="M236.61 128.55L239.91 134.15L233.31 134.15Z"/><path d="M238.76 147.92L242.06 153.52L235.46 153.52Z"/><path d="M240.91 144.69L244.21 150.29L237.61 150.29Z"/><path d="M243.05 125.32L246.35 130.92L239.75 130.92Z"/><path d="M245.20 120.48L248.50 126.08L241.90 126.08Z"/><path d="M247.35 112.41L250.65 118.01L244.05 118.01Z"/><path d="M249.49 112.41L252.79 118.01L246.19 118.01Z"/><path d="M251.64 115.64L254.94 121.24L248.34 121.24Z"/><path d="M253.79 112.41L257.09 118.01L250.49 118.01Z"/><path d="M255.94 114.02L259.24 119.62L252.64 119.62Z"/><path d="M258.08 117.25L261.38 122.85L254.78 122.85Z"/><path d="M260.23 115.64L263.53 121.24L256.93 121.24Z"/><path d="M262.38 112.41L265.68 118.01L259.08 118.01Z"/><path d="M264.52 120.48L267.82 126.08L261.22 126.08Z"/><path d="M266.67 135.00L269.97 140.60L263.37 140.60Z"/><path d="M268.82 128.55L272.12 134.15L265.52 134.15Z"/><path d="M270.96 112.41L274.26 118.01L267.66 118.01Z"/><path d="M273.11 115.64L276.41 121.24L269.81 121.24Z"/><path d="M275.26 105.95L278.56 111.55L271.96 111.55Z"/><path d="M277.41 141.46L280.71 147.06L274.11 147.06Z"/><path d="M279.55 227.00L282.85 232.60L276.25 232.60Z"/><path d="M281.70 230.23L285.00 235.83L278.40 235.83Z"/><path d="M283.85 227.00L287.15 232.60L280.55 232.60Z"/><path d="M285.99 128.55L289.29 134.15L282.69 134.15Z"/><path d="M288.14 93.04L291.44 98.64L284.84 98.64Z"/><path d="M290.29 104.34L293.59 109.94L286.99 109.94Z"/><path d="M292.43 101.92L295.73 107.52L289.13 107.52Z"/><path d="M294.58 105.95L297.88 111.55L291.28 111.55Z"/><path d="M296.73 131.78L300.03 137.38L293.43 137.38Z"/><path d="M298.88 120.48L302.18 126.08L295.58 126.08Z"/><path d="M301.02 128.55L304.32 134.15L297.72 134.15Z"/><path d="M303.17 138.23L306.47 143.83L299.87 143.83Z"/><path d="M305.32 115.64L308.62 121.24L302.02 121.24Z"/><path d="M307.46 112.41L310.76 118.01L304.16 118.01Z"/><path d="M309.61 105.95L312.91 111.55L306.31 111.55Z"/><path d="M311.76 104.34L315.06 109.94L308.46 109.94Z"/><path d="M313.90 102.72L317.20 108.32L310.60 108.32Z"/><path d="M316.05 99.50L319.35 105.10L312.75 105.10Z"/><path d="M318.20 104.34L321.50 109.94L314.90 109.94Z"/><path d="M320.35 101.11L323.65 106.71L317.05 106.71Z"/><path d="M322.49 96.27L325.79 101.87L319.19 101.87Z"/><path d="M324.64 85.62L327.94 91.22L321.34 91.22Z"/><path d="M326.79 104.34L330.09 109.94L323.49 109.94Z"/><path d="M328.93 112.41L332.23 118.01L325.63 118.01Z"/><path d="M331.08 102.72L334.38 108.32L327.78 108.32Z"/><path d="M333.23 102.72L336.53 108.32L329.93 108.32Z"/><path d="M335.38 105.95L338.68 111.55L332.07 111.55Z"/><path d="M337.52 107.57L340.82 113.17L334.22 113.17Z"/><path d="M339.67 89.81L342.97 95.41L336.37 95.41Z"/><path d="M341.82 107.57L345.12 113.17L338.52 113.17Z"/><path d="M343.96 112.41L347.26 118.01L340.66 118.01Z"/><path d="M346.11 105.95L349.41 111.55L342.81 111.55Z"/><path d="M348.26 107.57L351.56 113.17L344.96 113.17Z"/><path d="M350.40 105.95L353.70 111.55L347.10 111.55Z"/><path d="M352.55 101.43L355.85 107.03L349.25 107.03Z"/><path d="M354.70 105.95L358.00 111.55L351.40 111.55Z"/><path d="M356.84 109.18L360.14 114.78L353.54 114.78Z"/><path d="M358.99 112.41L362.29 118.01L355.69 118.01Z"/><path d="M361.14 105.95L364.44 111.55L357.84 111.55Z"/><path d="M363.29 104.34L366.59 109.94L359.99 109.94Z"/><path d="M365.43 107.57L368.73 113.17L362.13 113.17Z"/><path d="M367.58 109.18L370.88 114.78L364.28 114.78Z"/><path d="M369.73 109.18L373.03 114.78L366.43 114.78Z"/><path d="M371.87 128.55L375.17 134.15L368.57 134.15Z"/><path d="M374.02 168.90L377.32 174.50L370.72 174.50Z"/><path d="M376.17 170.51L379.47 176.11L372.87 176.11Z"/><path d="M378.31 136.62L381.62 142.22L375.01 142.22Z"/><path d="M380.46 120.48L383.76 126.08L377.16 126.08Z"/><path d="M382.61 109.18L385.91 114.78L379.31 114.78Z"/><path d="M384.76 105.95L388.06 111.55L381.46 111.55Z"/><path d="M386.90 104.34L390.20 109.94L383.60 109.94Z"/><path d="M389.05 102.72L392.35 108.32L385.75 108.32Z"/><path d="M391.20 104.34L394.50 109.94L387.90 109.94Z"/><path d="M393.34 118.06L396.64 123.66L390.04 123.66Z"/><path d="M395.49 105.95L398.79 111.55L392.19 111.55Z"/><path d="M397.64 104.34L400.94 109.94L394.34 109.94Z"/><path d="M399.78 105.95L403.08 111.55L396.48 111.55Z"/><path d="M401.93 104.34L405.23 109.94L398.63 109.94Z"/><path d="M404.08 105.95L407.38 111.55L400.78 111.55Z"/><path d="M406.23 112.41L409.53 118.01L402.93 118.01Z"/><path d="M408.37 136.62L411.67 142.22L405.07 142.22Z"/><path d="M410.52 112.41L413.82 118.01L407.22 118.01Z"/><path d="M412.67 105.95L415.97 111.55L409.37 111.55Z"/><path d="M414.81 104.34L418.11 109.94L411.51 109.94Z"/><path d="M416.96 105.95L420.26 111.55L413.66 111.55Z"/><path d="M419.11 94.65L422.41 100.25L415.81 100.25Z"/><path d="M421.25 120.48L424.55 126.08L417.95 126.08Z"/><path d="M423.40 136.62L426.70 142.22L420.10 142.22Z"/><path d="M425.55 120.48L428.85 126.08L422.25 126.08Z"/><path d="M427.70 104.34L431.00 109.94L424.40 109.94Z"/><path d="M429.84 96.27L433.14 101.87L426.54 101.87Z"/><path d="M431.99 93.04L435.29 98.64L428.69 98.64Z"/><path d="M434.14 89.01L437.44 94.61L430.84 94.61Z"/><path d="M436.28 96.27L439.58 101.87L432.98 101.87Z"/><path d="M438.43 105.95L441.73 111.55L435.13 111.55Z"/><path d="M440.58 104.34L443.88 109.94L437.28 109.94Z"/><path d="M442.72 105.95L446.02 111.55L439.42 111.55Z"/><path d="M444.87 120.48L448.17 126.08L441.57 126.08Z"/><path d="M447.02 128.55L450.32 134.15L443.72 134.15Z"/><path d="M449.17 144.69L452.47 150.29L445.87 150.29Z"/><path d="M451.31 128.55L454.61 134.15L448.01 134.15Z"/><path d="M453.46 112.41L456.76 118.01L450.16 118.01Z"/><path d="M455.61 104.34L458.91 109.94L452.31 109.94Z"/><path d="M457.75 105.95L461.05 111.55L454.45 111.55Z"/><path d="M459.90 109.18L463.20 114.78L456.60 114.78Z"/><path d="M462.05 102.72L465.35 108.32L458.75 108.32Z"/><path d="M464.19 104.34L467.49 109.94L460.89 109.94Z"/><path d="M466.34 105.95L469.64 111.55L463.04 111.55Z"/><path d="M468.49 107.57L471.79 113.17L465.19 113.17Z"/><path d="M470.64 109.18L473.94 114.78L467.34 114.78Z"/><path d="M472.78 88.20L476.08 93.80L469.48 93.80Z"/><path d="M474.93 83.36L478.23 88.96L471.63 88.96Z"/><path d="M477.08 80.13L480.38 85.73L473.78 85.73Z"/><path d="M479.22 76.90L482.52 82.50L475.92 82.50Z"/><path d="M481.37 80.13L484.67 85.73L478.07 85.73Z"/><path d="M483.52 75.29L486.82 80.89L480.22 80.89Z"/><path d="M485.66 76.90L488.96 82.50L482.36 82.50Z"/><path d="M487.81 83.36L491.11 88.96L484.51 88.96Z"/><path d="M489.96 80.13L493.26 85.73L486.66 85.73Z"/><path d="M492.11 84.97L495.41 90.57L488.81 90.57Z"/><path d="M494.25 80.13L497.55 85.73L490.95 85.73Z"/><path d="M496.40 87.39L499.70 92.99L493.10 92.99Z"/><path d="M498.55 86.58L501.85 92.18L495.25 92.18Z"/><path d="M500.69 83.36L503.99 88.96L497.39 88.96Z"/><path d="M502.84 84.97L506.14 90.57L499.54 90.57Z"/><path d="M504.99 86.58L508.29 92.18L501.69 92.18Z"/><path d="M507.13 83.36L510.43 88.96L503.83 88.96Z"/><path d="M509.28 86.58L512.58 92.18L505.98 92.18Z"/><path d="M511.43 89.01L514.73 94.61L508.13 94.61Z"/><path d="M513.58 84.97L516.88 90.57L510.28 90.57Z"/><path d="M515.72 41.39L519.02 46.99L512.42 46.99Z"/><path d="M517.87 47.85L521.17 53.45L514.57 53.45Z"/><path d="M520.02 82.55L523.32 88.15L516.72 88.15Z"/><path d="M522.16 76.90L525.46 82.50L518.86 82.50Z"/><path d="M524.31 54.30L527.61 59.90L521.01 59.90Z"/><path d="M526.46 51.08L529.76 56.68L523.16 56.68Z"/><path d="M528.61 54.30L531.90 59.90L525.31 59.90Z"/></g>
<polyline points="69.15,130.41 71.29,148.16 73.44,114.27 75.59,107.81 77.73,95.70 79.88,73.92 82.03,60.20 84.18,59.39 86.32,53.26 88.47,53.26 90.62,50.51 92.76,80.37 94.91,101.35 97.06,80.37 99.20,79.56 101.35,78.76 103.50,94.90 105.65,96.51 107.79,106.20 109.94,99.74 112.09,98.13 114.23,94.90 116.38,123.95 118.53,132.02 120.67,144.93 122.82,132.02 124.97,91.67 127.12,90.86 129.26,88.44 131.41,99.74 133.56,100.55 135.70,107.81 137.85,130.41 140.00,109.42 142.14,89.25 144.29,128.79 146.44,157.84 148.59,178.83 150.73,156.23 152.88,133.63 155.03,111.04 157.17,122.34 159.32,112.65 161.47,107.81 163.62,102.97 165.76,94.90 167.91,81.99 170.06,83.60 172.20,106.20 174.35,109.42 176.50,109.42 178.64,111.04 180.79,109.42 182.94,75.53 185.08,77.14 187.23,91.67 189.38,80.37 191.53,83.60 193.67,106.20 195.82,134.44 197.97,115.88 200.11,111.04 202.26,111.04 204.41,128.79 206.55,132.02 208.70,125.56 210.85,120.72 213.00,108.62 215.14,125.56 217.29,125.56 219.44,113.30 221.58,106.20 223.73,99.74 225.88,115.88 228.02,143.32 230.17,128.79 232.32,116.69 234.47,149.77 236.61,161.07 238.76,162.69 240.91,158.65 243.05,157.84 245.20,135.25 247.35,112.65 249.49,112.65 251.64,112.65 253.79,123.95 255.94,138.48 258.08,153.00 260.23,151.39 262.38,99.74 264.52,88.44 266.67,84.41 268.82,102.97 270.96,115.88 273.11,106.20 275.26,102.97 277.41,151.39 279.55,182.05 281.70,205.46 283.85,183.67 285.99,148.16 288.14,115.07 290.29,112.65 292.43,119.11 294.58,117.49 296.73,136.86 298.88,119.11 301.02,107.81 303.17,107.81 305.32,93.28 307.46,99.74 309.61,107.00 311.76,115.88 313.90,127.18 316.05,132.02 318.20,127.18 320.35,115.88 322.49,110.07 324.64,123.95 326.79,115.07 328.93,132.02 331.08,119.11 333.23,115.88 335.38,119.11 337.52,115.88 339.67,140.09 341.82,112.65 343.96,99.74 346.11,107.81 348.26,123.95 350.40,133.63 352.55,115.88 354.70,107.81 356.84,86.83 358.99,86.83 361.14,86.02 363.29,88.44 365.43,107.81 367.58,127.18 369.73,123.95 371.87,148.16 374.02,182.05 376.17,175.60 378.31,165.91 380.46,151.39 382.61,102.97 384.76,65.85 386.90,67.46 389.05,70.69 391.20,75.53 393.34,80.37 395.49,90.06 397.64,94.90 399.78,96.51 401.93,98.13 404.08,88.44 406.23,78.76 408.37,115.07 410.52,102.97 412.67,96.51 414.81,94.90 416.96,94.90 419.11,99.74 421.25,132.02 423.40,159.46 425.55,115.88 427.70,81.99 429.84,80.37 431.99,80.37 434.14,72.30 436.28,99.74 438.43,119.11 440.58,104.58 442.72,115.88 444.87,140.09 447.02,154.62 449.17,162.69 451.31,161.07 453.46,144.93 455.61,120.72 457.75,132.02 459.90,127.18 462.05,109.42 464.19,109.42 466.34,132.02 468.49,109.42 470.64,107.81 472.78,73.92 474.93,83.60 477.08,69.88 479.22,75.53 481.37,67.46 483.52,59.39 485.66,56.16 487.81,83.12 489.96,62.62 492.11,67.46 494.25,64.23 496.40,85.21 498.55,56.16 500.69,67.46 502.84,88.44 504.99,67.46 507.13,70.69 509.28,80.37 511.43,75.53 513.58,86.83 515.72,83.60 517.87,48.09 520.02,53.74 522.16,38.41 524.31,38.41 526.46,39.21 528.61,40.02" stroke="#3A92B4" stroke-width="2.0"/>
<g fill="#3A92B4"><path d="M69.15 133.88L72.45 128.28L65.85 128.28Z"/><path d="M71.29 151.63L74.59 146.03L67.99 146.03Z"/><path d="M73.44 117.74L76.74 112.14L70.14 112.14Z"/><path d="M75.59 111.28L78.89 105.68L72.29 105.68Z"/><path d="M77.73 99.18L81.03 93.58L74.44 93.58Z"/><path d="M79.88 77.39L83.18 71.79L76.58 71.79Z"/><path d="M82.03 63.67L85.33 58.07L78.73 58.07Z"/><path d="M84.18 62.86L87.48 57.26L80.88 57.26Z"/><path d="M86.32 56.73L89.62 51.13L83.02 51.13Z"/><path d="M88.47 56.73L91.77 51.13L85.17 51.13Z"/><path d="M90.62 53.98L93.92 48.38L87.32 48.38Z"/><path d="M92.76 83.84L96.06 78.24L89.46 78.24Z"/><path d="M94.91 104.83L98.21 99.23L91.61 99.23Z"/><path d="M97.06 83.84L100.36 78.24L93.76 78.24Z"/><path d="M99.20 83.04L102.50 77.44L95.91 77.44Z"/><path d="M101.35 82.23L104.65 76.63L98.05 76.63Z"/><path d="M103.50 98.37L106.80 92.77L100.20 92.77Z"/><path d="M105.65 99.98L108.95 94.38L102.35 94.38Z"/><path d="M107.79 109.67L111.09 104.07L104.49 104.07Z"/><path d="M109.94 103.21L113.24 97.61L106.64 97.61Z"/><path d="M112.09 101.60L115.39 96.00L108.79 96.00Z"/><path d="M114.23 98.37L117.53 92.77L110.93 92.77Z"/><path d="M116.38 127.42L119.68 121.82L113.08 121.82Z"/><path d="M118.53 135.49L121.83 129.89L115.23 129.89Z"/><path d="M120.67 148.40L123.97 142.80L117.38 142.80Z"/><path d="M122.82 135.49L126.12 129.89L119.52 129.89Z"/><path d="M124.97 95.14L128.27 89.54L121.67 89.54Z"/><path d="M127.12 94.33L130.42 88.73L123.82 88.73Z"/><path d="M129.26 91.91L132.56 86.31L125.96 86.31Z"/><path d="M131.41 103.21L134.71 97.61L128.11 97.61Z"/><path d="M133.56 104.02L136.86 98.42L130.26 98.42Z"/><path d="M135.70 111.28L139.00 105.68L132.40 105.68Z"/><path d="M137.85 133.88L141.15 128.28L134.55 128.28Z"/><path d="M140.00 112.90L143.30 107.30L136.70 107.30Z"/><path d="M142.14 92.72L145.44 87.12L138.84 87.12Z"/><path d="M144.29 132.26L147.59 126.66L140.99 126.66Z"/><path d="M146.44 161.32L149.74 155.72L143.14 155.72Z"/><path d="M148.59 182.30L151.89 176.70L145.29 176.70Z"/><path d="M150.73 159.70L154.03 154.10L147.43 154.10Z"/><path d="M152.88 137.11L156.18 131.51L149.58 131.51Z"/><path d="M155.03 114.51L158.33 108.91L151.73 108.91Z"/><path d="M157.17 125.81L160.47 120.21L153.87 120.21Z"/><path d="M159.32 116.12L162.62 110.52L156.02 110.52Z"/><path d="M161.47 111.28L164.77 105.68L158.17 105.68Z"/><path d="M163.62 106.44L166.92 100.84L160.31 100.84Z"/><path d="M165.76 98.37L169.06 92.77L162.46 92.77Z"/><path d="M167.91 85.46L171.21 79.86L164.61 79.86Z"/><path d="M170.06 87.07L173.36 81.47L166.76 81.47Z"/><path d="M172.20 109.67L175.50 104.07L168.90 104.07Z"/><path d="M174.35 112.90L177.65 107.30L171.05 107.30Z"/><path d="M176.50 112.90L179.80 107.30L173.20 107.30Z"/><path d="M178.64 114.51L181.94 108.91L175.34 108.91Z"/><path d="M180.79 112.90L184.09 107.30L177.49 107.30Z"/><path d="M182.94 79.00L186.24 73.40L179.64 73.40Z"/><path d="M185.08 80.62L188.38 75.02L181.78 75.02Z"/><path d="M187.23 95.14L190.53 89.54L183.93 89.54Z"/><path d="M189.38 83.84L192.68 78.24L186.08 78.24Z"/><path d="M191.53 87.07L194.83 81.47L188.23 81.47Z"/><path d="M193.67 109.67L196.97 104.07L190.37 104.07Z"/><path d="M195.82 137.91L199.12 132.31L192.52 132.31Z"/><path d="M197.97 119.35L201.27 113.75L194.67 113.75Z"/><path d="M200.11 114.51L203.41 108.91L196.81 108.91Z"/><path d="M202.26 114.51L205.56 108.91L198.96 108.91Z"/><path d="M204.41 132.26L207.71 126.66L201.11 126.66Z"/><path d="M206.55 135.49L209.85 129.89L203.25 129.89Z"/><path d="M208.70 129.04L212.00 123.44L205.40 123.44Z"/><path d="M210.85 124.19L214.15 118.59L207.55 118.59Z"/><path d="M213.00 112.09L216.30 106.49L209.70 106.49Z"/><path d="M215.14 129.04L218.44 123.44L211.84 123.44Z"/><path d="M217.29 129.04L220.59 123.44L213.99 123.44Z"/><path d="M219.44 116.77L222.74 111.17L216.14 111.17Z"/><path d="M221.58 109.67L224.88 104.07L218.28 104.07Z"/><path d="M223.73 103.21L227.03 97.61L220.43 97.61Z"/><path d="M225.88 119.35L229.18 113.75L222.58 113.75Z"/><path d="M228.02 146.79L231.32 141.19L224.72 141.19Z"/><path d="M230.17 132.26L233.47 126.66L226.87 126.66Z"/><path d="M232.32 120.16L235.62 114.56L229.02 114.56Z"/><path d="M234.47 153.25L237.77 147.65L231.17 147.65Z"/><path d="M236.61 164.54L239.91 158.94L233.31 158.94Z"/><path d="M238.76 166.16L242.06 160.56L235.46 160.56Z"/><path d="M240.91 162.12L244.21 156.52L237.61 156.52Z"/><path d="M243.05 161.32L246.35 155.72L239.75 155.72Z"/><path d="M245.20 138.72L248.50 133.12L241.90 133.12Z"/><path d="M247.35 116.12L250.65 110.52L244.05 110.52Z"/><path d="M249.49 116.12L252.79 110.52L246.19 110.52Z"/><path d="M251.64 116.12L254.94 110.52L248.34 110.52Z"/><path d="M253.79 127.42L257.09 121.82L250.49 121.82Z"/><path d="M255.94 141.95L259.24 136.35L252.64 136.35Z"/><path d="M258.08 156.47L261.38 150.87L254.78 150.87Z"/><path d="M260.23 154.86L263.53 149.26L256.93 149.26Z"/><path d="M262.38 103.21L265.68 97.61L259.08 97.61Z"/><path d="M264.52 91.91L267.82 86.31L261.22 86.31Z"/><path d="M266.67 87.88L269.97 82.28L263.37 82.28Z"/><path d="M268.82 106.44L272.12 100.84L265.52 100.84Z"/><path d="M270.96 119.35L274.26 113.75L267.66 113.75Z"/><path d="M273.11 109.67L276.41 104.07L269.81 104.07Z"/><path d="M275.26 106.44L278.56 100.84L271.96 100.84Z"/><path d="M277.41 154.86L280.71 149.26L274.11 149.26Z"/><path d="M279.55 185.53L282.85 179.93L276.25 179.93Z"/><path d="M281.70 208.93L285.00 203.33L278.40 203.33Z"/><path d="M283.85 187.14L287.15 181.54L280.55 181.54Z"/><path d="M285.99 151.63L289.29 146.03L282.69 146.03Z"/><path d="M288.14 118.54L291.44 112.94L284.84 112.94Z"/><path d="M290.29 116.12L293.59 110.52L286.99 110.52Z"/><path d="M292.43 122.58L295.73 116.98L289.13 116.98Z"/><path d="M294.58 120.97L297.88 115.37L291.28 115.37Z"/><path d="M296.73 140.33L300.03 134.73L293.43 134.73Z"/><path d="M298.88 122.58L302.18 116.98L295.58 116.98Z"/><path d="M301.02 111.28L304.32 105.68L297.72 105.68Z"/><path d="M303.17 111.28L306.47 105.68L299.87 105.68Z"/><path d="M305.32 96.76L308.62 91.16L302.02 91.16Z"/><path d="M307.46 103.21L310.76 97.61L304.16 97.61Z"/><path d="M309.61 110.47L312.91 104.87L306.31 104.87Z"/><path d="M311.76 119.35L315.06 113.75L308.46 113.75Z"/><path d="M313.90 130.65L317.20 125.05L310.60 125.05Z"/><path d="M316.05 135.49L319.35 129.89L312.75 129.89Z"/><path d="M318.20 130.65L321.50 125.05L314.90 125.05Z"/><path d="M320.35 119.35L323.65 113.75L317.05 113.75Z"/><path d="M322.49 113.54L325.79 107.94L319.19 107.94Z"/><path d="M324.64 127.42L327.94 121.82L321.34 121.82Z"/><path d="M326.79 118.54L330.09 112.94L323.49 112.94Z"/><path d="M328.93 135.49L332.23 129.89L325.63 129.89Z"/><path d="M331.08 122.58L334.38 116.98L327.78 116.98Z"/><path d="M333.23 119.35L336.53 113.75L329.93 113.75Z"/><path d="M335.38 122.58L338.68 116.98L332.07 116.98Z"/><path d="M337.52 119.35L340.82 113.75L334.22 113.75Z"/><path d="M339.67 143.56L342.97 137.96L336.37 137.96Z"/><path d="M341.82 116.12L345.12 110.52L338.52 110.52Z"/><path d="M343.96 103.21L347.26 97.61L340.66 97.61Z"/><path d="M346.11 111.28L349.41 105.68L342.81 105.68Z"/><path d="M348.26 127.42L351.56 121.82L344.96 121.82Z"/><path d="M350.40 137.11L353.70 131.51L347.10 131.51Z"/><path d="M352.55 119.35L355.85 113.75L349.25 113.75Z"/><path d="M354.70 111.28L358.00 105.68L351.40 105.68Z"/><path d="M356.84 90.30L360.14 84.70L353.54 84.70Z"/><path d="M358.99 90.30L362.29 84.70L355.69 84.70Z"/><path d="M361.14 89.49L364.44 83.89L357.84 83.89Z"/><path d="M363.29 91.91L366.59 86.31L359.99 86.31Z"/><path d="M365.43 111.28L368.73 105.68L362.13 105.68Z"/><path d="M367.58 130.65L370.88 125.05L364.28 125.05Z"/><path d="M369.73 127.42L373.03 121.82L366.43 121.82Z"/><path d="M371.87 151.63L375.17 146.03L368.57 146.03Z"/><path d="M374.02 185.53L377.32 179.93L370.72 179.93Z"/><path d="M376.17 179.07L379.47 173.47L372.87 173.47Z"/><path d="M378.31 169.39L381.62 163.79L375.01 163.79Z"/><path d="M380.46 154.86L383.76 149.26L377.16 149.26Z"/><path d="M382.61 106.44L385.91 100.84L379.31 100.84Z"/><path d="M384.76 69.32L388.06 63.72L381.46 63.72Z"/><path d="M386.90 70.93L390.20 65.33L383.60 65.33Z"/><path d="M389.05 74.16L392.35 68.56L385.75 68.56Z"/><path d="M391.20 79.00L394.50 73.40L387.90 73.40Z"/><path d="M393.34 83.84L396.64 78.24L390.04 78.24Z"/><path d="M395.49 93.53L398.79 87.93L392.19 87.93Z"/><path d="M397.64 98.37L400.94 92.77L394.34 92.77Z"/><path d="M399.78 99.98L403.08 94.38L396.48 94.38Z"/><path d="M401.93 101.60L405.23 96.00L398.63 96.00Z"/><path d="M404.08 91.91L407.38 86.31L400.78 86.31Z"/><path d="M406.23 82.23L409.53 76.63L402.93 76.63Z"/><path d="M408.37 118.54L411.67 112.94L405.07 112.94Z"/><path d="M410.52 106.44L413.82 100.84L407.22 100.84Z"/><path d="M412.67 99.98L415.97 94.38L409.37 94.38Z"/><path d="M414.81 98.37L418.11 92.77L411.51 92.77Z"/><path d="M416.96 98.37L420.26 92.77L413.66 92.77Z"/><path d="M419.11 103.21L422.41 97.61L415.81 97.61Z"/><path d="M421.25 135.49L424.55 129.89L417.95 129.89Z"/><path d="M423.40 162.93L426.70 157.33L420.10 157.33Z"/><path d="M425.55 119.35L428.85 113.75L422.25 113.75Z"/><path d="M427.70 85.46L431.00 79.86L424.40 79.86Z"/><path d="M429.84 83.84L433.14 78.24L426.54 78.24Z"/><path d="M431.99 83.84L435.29 78.24L428.69 78.24Z"/><path d="M434.14 75.77L437.44 70.17L430.84 70.17Z"/><path d="M436.28 103.21L439.58 97.61L432.98 97.61Z"/><path d="M438.43 122.58L441.73 116.98L435.13 116.98Z"/><path d="M440.58 108.05L443.88 102.45L437.28 102.45Z"/><path d="M442.72 119.35L446.02 113.75L439.42 113.75Z"/><path d="M444.87 143.56L448.17 137.96L441.57 137.96Z"/><path d="M447.02 158.09L450.32 152.49L443.72 152.49Z"/><path d="M449.17 166.16L452.47 160.56L445.87 160.56Z"/><path d="M451.31 164.54L454.61 158.94L448.01 158.94Z"/><path d="M453.46 148.40L456.76 142.80L450.16 142.80Z"/><path d="M455.61 124.19L458.91 118.59L452.31 118.59Z"/><path d="M457.75 135.49L461.05 129.89L454.45 129.89Z"/><path d="M459.90 130.65L463.20 125.05L456.60 125.05Z"/><path d="M462.05 112.90L465.35 107.30L458.75 107.30Z"/><path d="M464.19 112.90L467.49 107.30L460.89 107.30Z"/><path d="M466.34 135.49L469.64 129.89L463.04 129.89Z"/><path d="M468.49 112.90L471.79 107.30L465.19 107.30Z"/><path d="M470.64 111.28L473.94 105.68L467.34 105.68Z"/><path d="M472.78 77.39L476.08 71.79L469.48 71.79Z"/><path d="M474.93 87.07L478.23 81.47L471.63 81.47Z"/><path d="M477.08 73.35L480.38 67.75L473.78 67.75Z"/><path d="M479.22 79.00L482.52 73.40L475.92 73.40Z"/><path d="M481.37 70.93L484.67 65.33L478.07 65.33Z"/><path d="M483.52 62.86L486.82 57.26L480.22 57.26Z"/><path d="M485.66 59.63L488.96 54.03L482.36 54.03Z"/><path d="M487.81 86.59L491.11 80.99L484.51 80.99Z"/><path d="M489.96 66.09L493.26 60.49L486.66 60.49Z"/><path d="M492.11 70.93L495.41 65.33L488.81 65.33Z"/><path d="M494.25 67.70L497.55 62.10L490.95 62.10Z"/><path d="M496.40 88.69L499.70 83.09L493.10 83.09Z"/><path d="M498.55 59.63L501.85 54.03L495.25 54.03Z"/><path d="M500.69 70.93L503.99 65.33L497.39 65.33Z"/><path d="M502.84 91.91L506.14 86.31L499.54 86.31Z"/><path d="M504.99 70.93L508.29 65.33L501.69 65.33Z"/><path d="M507.13 74.16L510.43 68.56L503.83 68.56Z"/><path d="M509.28 83.84L512.58 78.24L505.98 78.24Z"/><path d="M511.43 79.00L514.73 73.40L508.13 73.40Z"/><path d="M513.58 90.30L516.88 84.70L510.28 84.70Z"/><path d="M515.72 87.07L519.02 81.47L512.42 81.47Z"/><path d="M517.87 51.56L521.17 45.96L514.57 45.96Z"/><path d="M520.02 57.21L523.32 51.61L516.72 51.61Z"/><path d="M522.16 41.88L525.46 36.28L518.86 36.28Z"/><path d="M524.31 41.88L527.61 36.28L521.01 36.28Z"/><path d="M526.46 42.69L529.76 37.09L523.16 37.09Z"/><path d="M528.61 43.49L531.90 37.89L525.31 37.89Z"/></g>
</g>
<g stroke="#000" fill="none" stroke-linecap="butt">
<path d="M54.1 35.2V246" stroke-width="1.8"/>
<path d="M53.2 245.4H540" stroke-width="1.25"/>
<path d="M54 245.40H48.70M54 228.86H51.00M54 212.72H48.70M54 196.58H51.00M54 180.44H48.70M54 164.30H51.00M54 148.16H48.70M54 132.02H51.00M54 115.88H48.70M54 99.74H51.00M54 83.60H48.70M54 67.46H51.00M54 51.32H48.70M54 35.18H51.00" stroke-width="1.3"/>
<path d="M67.00 245.6V250.90M120.67 245.6V248.60M174.35 245.6V250.90M228.02 245.6V248.60M281.70 245.6V250.90M335.38 245.6V248.60M389.05 245.6V250.90M442.72 245.6V248.60M496.40 245.6V250.90" stroke-width="1.6"/>
</g>
<g font-family="Liberation Serif, Times New Roman, serif" font-size="14" fill="#000"><text x="45" y="249.70" text-anchor="end">860</text><text x="45" y="217.42" text-anchor="end">880</text><text x="45" y="185.14" text-anchor="end">900</text><text x="45" y="152.86" text-anchor="end">920</text><text x="45" y="120.58" text-anchor="end">940</text><text x="45" y="88.30" text-anchor="end">960</text><text x="45" y="56.02" text-anchor="end">980</text><text x="67.00" y="266" text-anchor="middle">0</text><text x="174.35" y="266" text-anchor="middle">50</text><text x="281.70" y="266" text-anchor="middle">100</text><text x="389.05" y="266" text-anchor="middle">150</text><text x="496.40" y="266" text-anchor="middle">200</text></g>
<text font-family="Liberation Serif, Times New Roman, serif" font-size="16.8" x="297" y="291.5" text-anchor="middle">Sample</text>
<text font-family="Liberation Serif, Times New Roman, serif" font-size="16.6" transform="translate(17.3,140.2) rotate(-90)" text-anchor="middle">Furnace temperature(°C)</text>
<text font-family="Liberation Serif, Times New Roman, serif" font-size="15.6" x="57.7" y="32.8">c) Testing</text>
<rect x="286.2" y="11.8" width="93.2" height="72.3" fill="#fff" stroke="#555" stroke-width="1"/><line x1="287" y1="21.30" x2="320.3" y2="21.30" stroke="#000000" stroke-width="2.0"/><rect x="301.20" y="18.90" width="4.8" height="4.8" fill="#000000"/><text font-family="Liberation Serif, Times New Roman, serif" font-size="14.2" x="323.4" y="26.40">True</text><line x1="287" y1="38.80" x2="320.3" y2="38.80" stroke="#F46F3E" stroke-width="2.0"/><circle cx="303.60" cy="38.80" r="2.4" fill="#F46F3E"/><text font-family="Liberation Serif, Times New Roman, serif" font-size="14.2" x="323.4" y="43.90">BPNN</text><line x1="287" y1="56.30" x2="320.3" y2="56.30" stroke="#FCB469" stroke-width="2.0"/><path d="M303.60 53.20L306.40 58.20L300.80 58.20Z" fill="#FCB469"/><text font-family="Liberation Serif, Times New Roman, serif" font-size="14.2" x="323.4" y="61.40">FBLS</text><line x1="287" y1="73.80" x2="320.3" y2="73.80" stroke="#3A92B4" stroke-width="2.0"/><path d="M303.60 76.90L306.40 71.90L300.80 71.90Z" fill="#3A92B4"/><text font-family="Liberation Serif, Times New Roman, serif" font-size="14.2" x="323.4" y="78.90">IT2FBLS</text>
</svg>
</body></html>
